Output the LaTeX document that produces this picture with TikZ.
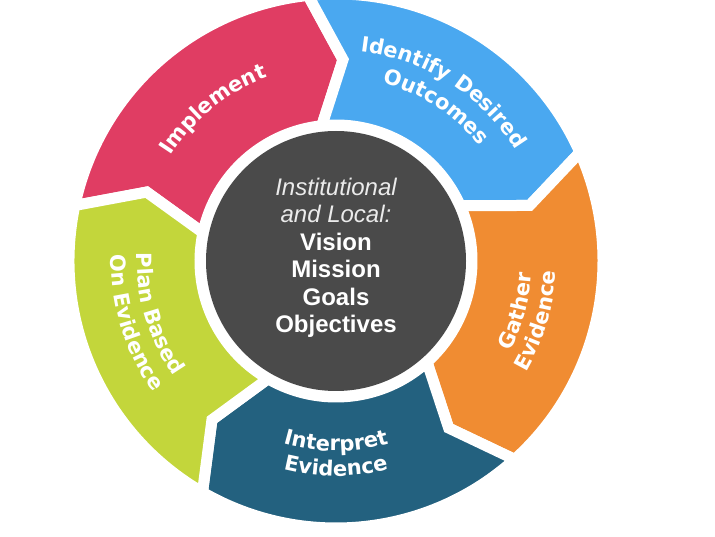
\documentclass[tikz,border=0pt]{standalone}
\usepackage{fontspec}
\setmainfont{Liberation Sans}
\newfontfamily\segfont{DejaVu Sans}
\usetikzlibrary{decorations.text,calc}
\definecolor{cpink}{HTML}{E03D63}
\definecolor{cblue}{HTML}{4AA8F0}
\definecolor{corange}{HTML}{F08C32}
\definecolor{cteal}{HTML}{23617F}
\definecolor{cgreen}{HTML}{C3D63B}
\definecolor{cgrey}{HTML}{4A4A4A}
\def\Ro{267}
\def\Ri{136}
\def\Rm{201.5}
\def\dd{8}
\newcommand{\ringseg}[4]{%
  \filldraw[segstyle, fill=#2] (#3:\Ro) arc[start angle=#3, end angle=#4, radius=\Ro]
    -- ({#4-\dd}:\Rm) -- (#4:\Ri) arc[start angle=#4, end angle=#3, radius=\Ri]
    -- ({#3-\dd}:\Rm) -- cycle;}
\tikzset{
  segstyle/.style={draw=white, line width=11pt, line join=miter},
  seglabel/.style={decorate, decoration={text along path, text align=center,
     text={|\segfont\bfseries\fontsize{21}{22}\selectfont\color{white}|#1}}}
}
\begin{document}
\begin{tikzpicture}[x=1pt,y=1pt]
\useasboundingbox (0,0) rectangle (715,536);
\coordinate (C) at (336,275);
\begin{scope}[shift={(C)}]
  \ringseg{implement}{cpink}{168}{96}
  \ringseg{identify}{cblue}{96}{24}
  \ringseg{gather}{corange}{24}{-48}
  \ringseg{interpret}{cteal}{-48}{-120}
  \ringseg{plan}{cgreen}{-120}{-192}
  % labels
  \path[seglabel={Implement}] (174:196) arc[start angle=174, end angle=84, radius=196];
  \path[seglabel={Identify Desired}] (102.5:211) arc[start angle=102.5, end angle=12.5, radius=211];
  \path[seglabel={Outcomes}] (102:184) arc[start angle=102, end angle=12, radius=184];
  \path[seglabel={Gather}] (-60.5:196) arc[start angle=-60.5, end angle=29.5, radius=196];
  \path[seglabel={Evidence}] (-61.5:220) arc[start angle=-61.5, end angle=28.5, radius=220];
  \path[seglabel={Interpret}] (-135:190) arc[start angle=-135, end angle=-45, radius=190];
  \path[seglabel={Evidence}] (-135:215) arc[start angle=-135, end angle=-45, radius=215];
  \path[seglabel={Plan Based}] (151.5:199) arc[start angle=151.5, end angle=241.5, radius=199];
  \path[seglabel={On Evidence}] (152:225) arc[start angle=152, end angle=242, radius=225];
\end{scope}
\node[circle, fill=cgrey, minimum size=260pt, inner sep=0pt] (core) at (C) {};
\node[align=center, text=white, font=\bfseries\fontsize{24}{27.5}\selectfont] (coretext) at ($(C)+(0,3)$)
  {{\color{white!92!black}\mdseries\itshape\fontsize{24}{27.5}\selectfont Institutional}\\
   {\color{white!92!black}\mdseries\itshape\fontsize{24}{27.5}\selectfont and Local:}\\
   Vision\\ Mission\\ Goals\\ Objectives};
\end{tikzpicture}
\end{document}
